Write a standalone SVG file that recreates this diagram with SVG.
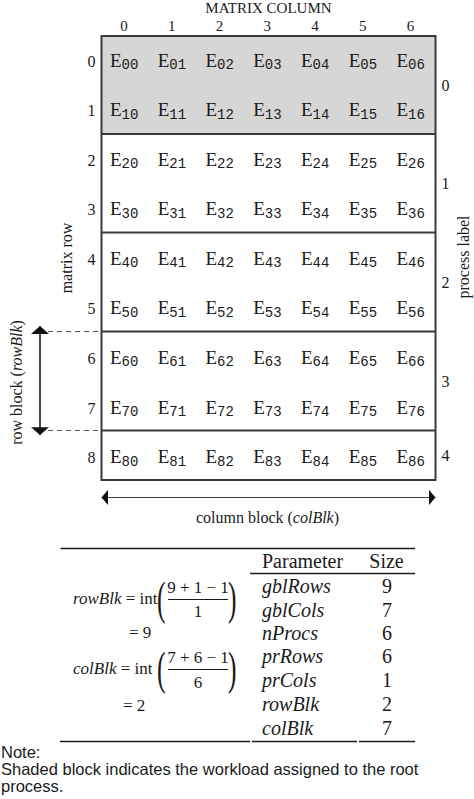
<svg xmlns="http://www.w3.org/2000/svg" width="474" height="799" viewBox="0 0 474 799">
<defs>
<style>
.serif{font-family:"Liberation Serif","Times New Roman",serif;fill:#1a1a1a}
.lab{font-size:16px}
.hdr{font-size:15px}
.e{font-family:"Liberation Serif","Times New Roman",serif;font-size:19px;fill:#1a1a1a}
.sub{font-family:"Liberation Mono","Courier New",monospace;font-size:14px}
.grid{fill:none;stroke:#3a3a3a;stroke-width:2}
.tbl{font-size:20px}
.it{font-style:italic}
.f{font-size:17px}
.rule{stroke:#1a1a1a;stroke-width:1.5}
.note{font-family:"Liberation Sans",Arial,sans-serif;font-size:16.5px;fill:#1a1a1a}
.dash{stroke:#555;stroke-width:1.2;stroke-dasharray:5 4}
</style>
<marker id="arrV" markerUnits="userSpaceOnUse" markerWidth="10" markerHeight="18" refX="7" refY="8" orient="auto-start-reverse" viewBox="0 0 8 16">
<path d="M0,0 L7,8 L0,16 z" fill="#111"/>
</marker>
<marker id="arrH" markerUnits="userSpaceOnUse" markerWidth="8" markerHeight="16" refX="6" refY="7" orient="auto-start-reverse" viewBox="0 0 7 14">
<path d="M0,0 L6,7 L0,14 z" fill="#111"/>
</marker>
</defs>
<rect width="474" height="799" fill="#fff"/>

<g id="matrix">
<rect x="101.5" y="36" width="334" height="98" fill="#d6d6d6"/>
<rect class="grid" x="101.5" y="36" width="334" height="444"/>
<line class="grid" x1="101.5" y1="134" x2="435.5" y2="134"/>
<line class="grid" x1="101.5" y1="232.5" x2="435.5" y2="232.5"/>
<line class="grid" x1="101.5" y1="331.5" x2="435.5" y2="331.5"/>
<line class="grid" x1="101.5" y1="430.5" x2="435.5" y2="430.5"/>
</g>

<g id="title">
<text class="serif hdr" x="268.5" y="12.5" text-anchor="middle">MATRIX COLUMN</text>
</g>

<g id="col-headers" class="serif hdr" text-anchor="middle">
<text x="124" y="31">0</text>
<text x="171.75" y="31">1</text>
<text x="219.5" y="31">2</text>
<text x="267.25" y="31">3</text>
<text x="315" y="31">4</text>
<text x="362.75" y="31">5</text>
<text x="410.5" y="31">6</text>
</g>

<g id="row-labels" class="serif lab" text-anchor="middle">
<text x="91.5" y="66.7">0</text>
<text x="91.5" y="116.2">1</text>
<text x="91.5" y="165.8">2</text>
<text x="91.5" y="215.3">3</text>
<text x="91.5" y="264.9">4</text>
<text x="91.5" y="314.4">5</text>
<text x="91.5" y="363.9">6</text>
<text x="91.5" y="413.5">7</text>
<text x="91.5" y="463">8</text>
</g>

<g id="process-labels" class="serif lab" text-anchor="middle">
<text x="445.5" y="90.5">0</text>
<text x="445.5" y="188.7">1</text>
<text x="445.5" y="287.5">2</text>
<text x="445.5" y="386.5">3</text>
<text x="445.5" y="460.5">4</text>
</g>

<g id="axis-labels" class="serif lab">
<text transform="translate(71.5 258) rotate(-90)" text-anchor="middle">matrix row</text>
<text transform="translate(469 257) rotate(-90)" text-anchor="middle">process label</text>
<text transform="translate(22 382.5) rotate(-90)" text-anchor="middle">row block (<tspan class="it">rowBlk</tspan>)</text>
<text x="267.5" y="523" text-anchor="middle">column block (<tspan class="it">colBlk</tspan>)</text>
</g>

<g id="elements" class="e">
<text x="110" y="66.7">E<tspan class="sub" dy="2.5">00</tspan></text>
<text x="157.75" y="66.7">E<tspan class="sub" dy="2.5">01</tspan></text>
<text x="205.5" y="66.7">E<tspan class="sub" dy="2.5">02</tspan></text>
<text x="253.25" y="66.7">E<tspan class="sub" dy="2.5">03</tspan></text>
<text x="301" y="66.7">E<tspan class="sub" dy="2.5">04</tspan></text>
<text x="348.75" y="66.7">E<tspan class="sub" dy="2.5">05</tspan></text>
<text x="396.5" y="66.7">E<tspan class="sub" dy="2.5">06</tspan></text>

<text x="110" y="116.2">E<tspan class="sub" dy="2.5">10</tspan></text>
<text x="157.75" y="116.2">E<tspan class="sub" dy="2.5">11</tspan></text>
<text x="205.5" y="116.2">E<tspan class="sub" dy="2.5">12</tspan></text>
<text x="253.25" y="116.2">E<tspan class="sub" dy="2.5">13</tspan></text>
<text x="301" y="116.2">E<tspan class="sub" dy="2.5">14</tspan></text>
<text x="348.75" y="116.2">E<tspan class="sub" dy="2.5">15</tspan></text>
<text x="396.5" y="116.2">E<tspan class="sub" dy="2.5">16</tspan></text>

<text x="110" y="165.8">E<tspan class="sub" dy="2.5">20</tspan></text>
<text x="157.75" y="165.8">E<tspan class="sub" dy="2.5">21</tspan></text>
<text x="205.5" y="165.8">E<tspan class="sub" dy="2.5">22</tspan></text>
<text x="253.25" y="165.8">E<tspan class="sub" dy="2.5">23</tspan></text>
<text x="301" y="165.8">E<tspan class="sub" dy="2.5">24</tspan></text>
<text x="348.75" y="165.8">E<tspan class="sub" dy="2.5">25</tspan></text>
<text x="396.5" y="165.8">E<tspan class="sub" dy="2.5">26</tspan></text>

<text x="110" y="215.3">E<tspan class="sub" dy="2.5">30</tspan></text>
<text x="157.75" y="215.3">E<tspan class="sub" dy="2.5">31</tspan></text>
<text x="205.5" y="215.3">E<tspan class="sub" dy="2.5">32</tspan></text>
<text x="253.25" y="215.3">E<tspan class="sub" dy="2.5">33</tspan></text>
<text x="301" y="215.3">E<tspan class="sub" dy="2.5">34</tspan></text>
<text x="348.75" y="215.3">E<tspan class="sub" dy="2.5">35</tspan></text>
<text x="396.5" y="215.3">E<tspan class="sub" dy="2.5">36</tspan></text>

<text x="110" y="264.9">E<tspan class="sub" dy="2.5">40</tspan></text>
<text x="157.75" y="264.9">E<tspan class="sub" dy="2.5">41</tspan></text>
<text x="205.5" y="264.9">E<tspan class="sub" dy="2.5">42</tspan></text>
<text x="253.25" y="264.9">E<tspan class="sub" dy="2.5">43</tspan></text>
<text x="301" y="264.9">E<tspan class="sub" dy="2.5">44</tspan></text>
<text x="348.75" y="264.9">E<tspan class="sub" dy="2.5">45</tspan></text>
<text x="396.5" y="264.9">E<tspan class="sub" dy="2.5">46</tspan></text>

<text x="110" y="314.4">E<tspan class="sub" dy="2.5">50</tspan></text>
<text x="157.75" y="314.4">E<tspan class="sub" dy="2.5">51</tspan></text>
<text x="205.5" y="314.4">E<tspan class="sub" dy="2.5">52</tspan></text>
<text x="253.25" y="314.4">E<tspan class="sub" dy="2.5">53</tspan></text>
<text x="301" y="314.4">E<tspan class="sub" dy="2.5">54</tspan></text>
<text x="348.75" y="314.4">E<tspan class="sub" dy="2.5">55</tspan></text>
<text x="396.5" y="314.4">E<tspan class="sub" dy="2.5">56</tspan></text>

<text x="110" y="363.9">E<tspan class="sub" dy="2.5">60</tspan></text>
<text x="157.75" y="363.9">E<tspan class="sub" dy="2.5">61</tspan></text>
<text x="205.5" y="363.9">E<tspan class="sub" dy="2.5">62</tspan></text>
<text x="253.25" y="363.9">E<tspan class="sub" dy="2.5">63</tspan></text>
<text x="301" y="363.9">E<tspan class="sub" dy="2.5">64</tspan></text>
<text x="348.75" y="363.9">E<tspan class="sub" dy="2.5">65</tspan></text>
<text x="396.5" y="363.9">E<tspan class="sub" dy="2.5">66</tspan></text>

<text x="110" y="413.5">E<tspan class="sub" dy="2.5">70</tspan></text>
<text x="157.75" y="413.5">E<tspan class="sub" dy="2.5">71</tspan></text>
<text x="205.5" y="413.5">E<tspan class="sub" dy="2.5">72</tspan></text>
<text x="253.25" y="413.5">E<tspan class="sub" dy="2.5">73</tspan></text>
<text x="301" y="413.5">E<tspan class="sub" dy="2.5">74</tspan></text>
<text x="348.75" y="413.5">E<tspan class="sub" dy="2.5">75</tspan></text>
<text x="396.5" y="413.5">E<tspan class="sub" dy="2.5">76</tspan></text>

<text x="110" y="463">E<tspan class="sub" dy="2.5">80</tspan></text>
<text x="157.75" y="463">E<tspan class="sub" dy="2.5">81</tspan></text>
<text x="205.5" y="463">E<tspan class="sub" dy="2.5">82</tspan></text>
<text x="253.25" y="463">E<tspan class="sub" dy="2.5">83</tspan></text>
<text x="301" y="463">E<tspan class="sub" dy="2.5">84</tspan></text>
<text x="348.75" y="463">E<tspan class="sub" dy="2.5">85</tspan></text>
<text x="396.5" y="463">E<tspan class="sub" dy="2.5">86</tspan></text>
</g>

<g id="connectors">
<line class="dash" x1="48" y1="331.5" x2="100.5" y2="331.5"/>
<line class="dash" x1="48" y1="430.5" x2="100.5" y2="430.5"/>
<line x1="40" y1="326" x2="40" y2="435" stroke="#111" stroke-width="1.5" marker-start="url(#arrV)" marker-end="url(#arrV)"/>
<line x1="101.5" y1="497.5" x2="435.5" y2="497.5" stroke="#444" stroke-width="1" marker-start="url(#arrH)" marker-end="url(#arrH)"/>
</g>

<g id="formulas" class="serif f">
<text x="73" y="604"><tspan class="it">rowBlk</tspan> = int</text>
<text transform="translate(157 613.5) scale(1.5 2.76)">(</text>
<text x="198" y="593" text-anchor="middle">9 + 1 − 1</text>
<line x1="168" y1="599.5" x2="228" y2="599.5" stroke="#1a1a1a" stroke-width="1"/>
<text x="198" y="617" text-anchor="middle">1</text>
<text transform="translate(228 613.5) scale(1.5 2.76)">)</text>
<text x="129" y="638">= 9</text>

<text x="73" y="674"><tspan class="it">colBlk</tspan> = int</text>
<text transform="translate(157 683.5) scale(1.5 2.76)">(</text>
<text x="198" y="663" text-anchor="middle">7 + 6 − 1</text>
<line x1="168" y1="669.5" x2="228" y2="669.5" stroke="#1a1a1a" stroke-width="1"/>
<text x="198" y="688" text-anchor="middle">6</text>
<text transform="translate(228 683.5) scale(1.5 2.76)">)</text>
<text x="123" y="711">= 2</text>
</g>

<g id="table" class="serif tbl">
<line class="rule" x1="60.5" y1="548.5" x2="415" y2="548.5"/>
<text x="262" y="568">Parameter</text>
<text x="386.5" y="568" text-anchor="middle">Size</text>
<line class="rule" x1="250" y1="573.5" x2="415" y2="573.5"/>
<g class="it">
<text x="262" y="593">gblRows</text>
<text x="262" y="617">gblCols</text>
<text x="262" y="640">nProcs</text>
<text x="262" y="663">prRows</text>
<text x="262" y="687">prCols</text>
<text x="262" y="711">rowBlk</text>
<text x="262" y="735">colBlk</text>
</g>
<g text-anchor="middle">
<text x="387" y="593">9</text>
<text x="387" y="617">7</text>
<text x="387" y="640">6</text>
<text x="387" y="663">6</text>
<text x="387" y="687">1</text>
<text x="387" y="711">2</text>
<text x="387" y="735">7</text>
</g>
<line class="rule" x1="60" y1="741.5" x2="250" y2="741.5"/>
<line class="rule" x1="252" y1="741.5" x2="357" y2="741.5"/>
<line class="rule" x1="359" y1="741.5" x2="415" y2="741.5"/>
</g>

<g id="note" class="note">
<text x="1" y="758">Note:</text>
<text x="1" y="775">Shaded block indicates the workload assigned to the root</text>
<text x="1" y="792">process.</text>
</g>
</svg>
